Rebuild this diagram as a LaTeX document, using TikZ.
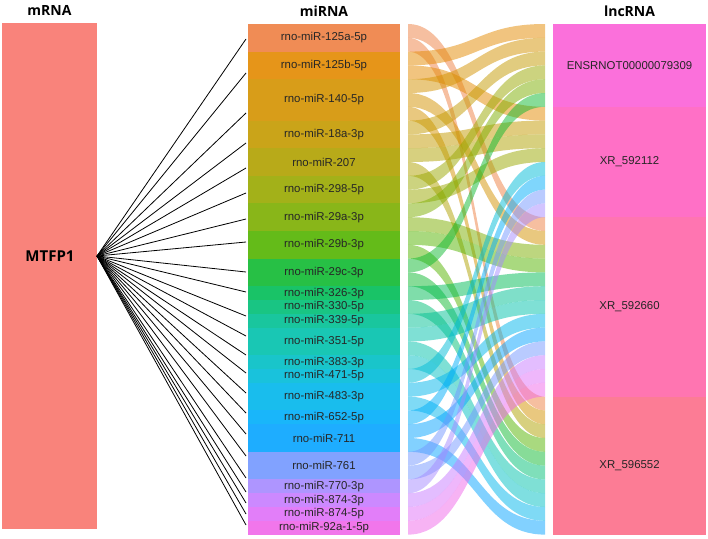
\documentclass[tikz,border=0pt]{standalone}
\usepackage{fontspec}
\setmainfont{Liberation Sans}
\newfontfamily\headfont{Open Sans}
\usetikzlibrary{positioning}

% node colours (hue palette, 28 levels)
\definecolor{c0}{HTML}{F8766D}
\definecolor{c1}{HTML}{EE8042}
\definecolor{c2}{HTML}{E38900}
\definecolor{c3}{HTML}{D49200}
\definecolor{c4}{HTML}{C49A00}
\definecolor{c5}{HTML}{B0A100}
\definecolor{c6}{HTML}{99A800}
\definecolor{c7}{HTML}{7CAE00}
\definecolor{c8}{HTML}{53B400}
\definecolor{c9}{HTML}{0FB931}
\definecolor{c10}{HTML}{00BC56}
\definecolor{c11}{HTML}{00BF76}
\definecolor{c12}{HTML}{00C094}
\definecolor{c13}{HTML}{00C1AC}
\definecolor{c14}{HTML}{00BFC4}
\definecolor{c15}{HTML}{00BBD8}
\definecolor{c16}{HTML}{00B6EB}
\definecolor{c17}{HTML}{00AEFA}
\definecolor{c18}{HTML}{06A4FF}
\definecolor{c19}{HTML}{7398FF}
\definecolor{c20}{HTML}{A58AFF}
\definecolor{c21}{HTML}{C77CFF}
\definecolor{c22}{HTML}{DF70F8}
\definecolor{c23}{HTML}{F067E9}
\definecolor{c24}{HTML}{FB61D7}
\definecolor{c25}{HTML}{FF61C0}
\definecolor{c26}{HTML}{FF66A8}
\definecolor{c27}{HTML}{FC6E8A}

\tikzset{
  box/.style={inner sep=0pt, outer sep=0pt, fill opacity=0.9, text opacity=1,
    text=black!85, font=\fontsize{11.4}{13}\selectfont},
  head/.style={inner sep=1pt, font=\headfont\bfseries\fontsize{14}{16}\selectfont},
  flow/.style={fill opacity=0.5},
  link/.style={black, line width=0.8pt},
}

\begin{document}
\begin{tikzpicture}[x=1pt,y=-1pt]
    \useasboundingbox (0,0) rectangle (708,538);

    % mRNA
    \node[box, fill=c0, minimum width=95pt, minimum height=506pt] (mbox) at (49.5,276) {};
    \node[head, font=\headfont\bfseries\fontsize{15}{17}\selectfont] (mtfp) at (50,256) {MTFP1};
    \node[head, above=6pt of mbox] (mhead) {mRNA};
    \coordinate (hub) at (mbox.east |- mtfp);

    % miRNA column, heights in units of 13.8
    \foreach \i/\lab/\a/\b in {1/rno-miR-125a-5p/0/2, 2/rno-miR-125b-5p/2/4,
        3/rno-miR-140-5p/4/7, 4/rno-miR-18a-3p/7/9, 5/rno-miR-207/9/11,
        6/rno-miR-298-5p/11/13, 7/rno-miR-29a-3p/13/15, 8/rno-miR-29b-3p/15/17,
        9/rno-miR-29c-3p/17/19, 10/rno-miR-326-3p/19/20, 11/rno-miR-330-5p/20/21,
        12/rno-miR-339-5p/21/22, 13/rno-miR-351-5p/22/24, 14/rno-miR-383-3p/24/25,
        15/rno-miR-471-5p/25/26, 16/rno-miR-483-3p/26/28, 17/rno-miR-652-5p/28/29,
        18/rno-miR-711/29/31, 19/rno-miR-761/31/33, 20/rno-miR-770-3p/33/34,
        21/rno-miR-874-3p/34/35, 22/rno-miR-874-5p/35/36, 23/rno-miR-92a-1-5p/36/37} {
      \pgfmathsetmacro\yc{24+(\a+\b)/2*13.8}
      \pgfmathsetmacro\hh{(\b-\a)*13.8}
      \node[box, fill=c\i, minimum width=152pt, minimum height=\hh pt] (mi\i) at (324,\yc) {\lab};
    }
    \node[head, above=6pt of mi1] (mihead) {miRNA};

    % lncRNA column
    \foreach \i/\lab/\a/\b in {24/ENSRNOT00000079309/0/6, 25/XR\_592112/6/14,
        26/XR\_592660/14/27, 27/XR\_596552/27/37} {
      \pgfmathsetmacro\yc{24+(\a+\b)/2*13.8}
      \pgfmathsetmacro\hh{(\b-\a)*13.8}
      \node[box, fill=c\i, minimum width=153pt, minimum height=\hh pt] (lnc\i) at (629.5,\yc) {\lab};
    }
    \node[head, above=6pt of lnc24] (lnchead) {lncRNA};

    % mRNA -> miRNA lines
    \foreach \i/\y in {1/39, 2/73, 3/113, 4/143, 5/168, 6/193, 7/219, 8/242,
        9/272, 10/292, 11/316, 12/336, 13/355, 14/373, 15/393, 16/413, 17/434,
        18/456, 19/478, 20/492, 21/503, 22/514, 23/525} {
      \coordinate (e\i) at (246,\y);
      \draw[link] (hub) -- (e\i);
    }

    % miRNA -> lncRNA bands: left slot / right slot / colour
    \foreach \l/\r/\c in {0/14/1, 1/27/1, 2/0/2, 3/6/2, 4/1/3, 5/15/3, 6/28/3,
        7/2/4, 8/7/4, 9/8/5, 10/29/5, 11/3/6, 12/9/6, 13/4/7, 14/16/7, 15/17/8,
        16/30/8, 17/5/9, 18/31/9, 19/18/10, 20/32/11, 21/19/12, 22/20/13,
        23/33/13, 24/34/14, 25/10/15, 26/21/16, 27/35/16, 28/11/17, 29/22/18,
        30/36/18, 31/12/19, 32/23/19, 33/13/20, 34/24/21, 35/25/22, 36/26/23} {
      \pgfmathsetmacro\ya{24+\l*13.8}
      \pgfmathsetmacro\yb{24+\r*13.8}
      \pgfmathsetmacro\yc{\ya+13.8}
      \pgfmathsetmacro\yd{\yb+13.8}
      \fill[flow, fill=c\c] (408,\ya) .. controls (476.5,\ya) and (476.5,\yb) .. (545,\yb)
        -- (545,\yd) .. controls (476.5,\yd) and (476.5,\yc) .. (408,\yc) -- cycle;
    }
\end{tikzpicture}
\end{document}
